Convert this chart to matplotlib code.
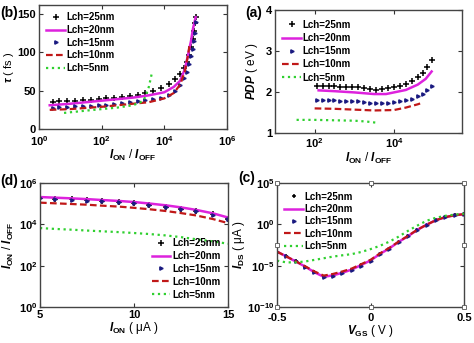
import matplotlib
matplotlib.use('Agg')
import matplotlib.pyplot as plt
from matplotlib.ticker import FixedLocator, FixedFormatter, NullLocator

plt.rcParams['font.family'] = ['Liberation Sans', 'DejaVu Sans']
plt.rcParams['font.weight'] = 'bold'
plt.rcParams['mathtext.fontset'] = 'custom'
plt.rcParams['mathtext.rm'] = 'Liberation Sans:bold'
plt.rcParams['mathtext.it'] = 'Liberation Sans:italic:bold'
plt.rcParams['mathtext.bf'] = 'Liberation Sans:bold'

labels = ['Lch=25nm', 'Lch=20nm', 'Lch=15nm', 'Lch=10nm', 'Lch=5nm']

# (b) delay vs ION/IOFF
b_x25 = [2.8, 4.5, 8, 14, 25, 45, 80, 140, 250, 450, 800, 1400, 2500, 4500, 8000, 14000, 22000,
         32000, 42000, 52000, 63000, 72000, 81000, 89000, 95000, 100000]
b_t25 = [35, 36, 36.5, 37, 37.5, 38, 39, 40, 41, 42, 43.5, 45, 47, 50, 54, 59, 65,
         72, 80, 88, 97, 107, 118, 128, 138, 146]
b_x20 = [2.2, 10, 100, 1000, 3200, 10000, 20000, 32000, 45000, 56000, 71000, 83000, 100000]
b_t20 = [31, 33, 37, 41, 44, 48, 55, 63, 78, 95, 115, 132, 146]
b_x15 = [2.8, 4.5, 8, 14, 25, 45, 80, 140, 250, 450, 800, 1400, 2500, 4500, 8000, 14000, 22000,
         32000, 42000, 52000, 63000, 72000, 81000, 89000, 95000, 100000]
b_t15 = [28, 28.5, 29, 29.5, 30, 30.5, 31, 32, 33, 34, 35, 36, 37.5, 39, 41, 45, 50,
         58, 66, 75, 85, 95, 105, 115, 125, 140]
b_x10 = [2.2, 10, 100, 1000, 3200, 10000, 20000, 32000, 45000, 56000, 63000]
b_t10 = [25, 26, 29, 33, 35, 40, 47, 58, 75, 95, 108]
b_x5 = [6.3, 32, 100, 320, 1000, 2000, 2500, 3200, 4000]
b_t5 = [21, 24, 26, 28, 31, 36, 42, 55, 73]

# (a) power-delay product vs ION/IOFF
a_x25 = [112, 158, 224, 316, 447, 631, 891, 1259, 1778, 2512, 3548, 5012, 7079, 10000,
         14125, 19953, 28184, 39811, 52481, 69183, 89125]
a_p25 = [2.15, 2.15, 2.14, 2.14, 2.13, 2.12, 2.12, 2.11, 2.10, 2.08, 2.05, 2.08, 2.10, 2.12,
         2.15, 2.20, 2.27, 2.36, 2.47, 2.60, 2.77]
a_x20 = [126, 316, 1000, 3162, 6310, 10000, 19953, 39811, 63096, 89125]
a_p20 = [2.04, 2.02, 1.99, 1.95, 1.95, 1.99, 2.05, 2.18, 2.32, 2.50]
a_x15 = [112, 158, 224, 316, 447, 631, 891, 1259, 1778, 2512, 3548, 5012, 7079, 10000,
         14125, 19953, 28184, 39811, 52481, 69183, 89125]
a_p15 = [1.81, 1.81, 1.80, 1.80, 1.79, 1.78, 1.78, 1.77, 1.75, 1.74, 1.73, 1.73, 1.74, 1.75,
         1.77, 1.80, 1.84, 1.90, 1.96, 2.05, 2.15]
a_x10 = [100, 316, 1000, 3162, 10000, 19953, 39811, 45709]
a_p10 = [1.60, 1.59, 1.57, 1.55, 1.56, 1.62, 1.70, 1.72]
a_x5 = [35, 100, 316, 1000, 2000, 3715]
a_p5 = [1.32, 1.32, 1.31, 1.30, 1.28, 1.25]

# (d) ION/IOFF vs ION
d_ion = [5, 5.8, 6.7, 7.5, 8.3, 9.2, 10, 10.8, 11.7, 12.5, 13.3, 14.2, 15]
d_r25 = [1.86e5, 1.74e5, 1.60e5, 1.45e5, 1.32e5, 1.20e5, 1.07e5, 9.1e4, 7.2e4, 5.5e4, 4.4e4, 3.0e4, 1.86e4]
d_r20 = [2.09e5, 1.95e5, 1.80e5, 1.66e5, 1.50e5, 1.35e5, 1.20e5, 1.02e5, 8.3e4, 6.6e4, 5.0e4, 3.4e4, 2.14e4]
d_r15 = [1.80e5, 1.68e5, 1.55e5, 1.40e5, 1.28e5, 1.15e5, 1.02e5, 8.8e4, 7.0e4, 5.4e4, 4.2e4, 2.9e4, 1.78e4]
d_r10 = [1.12e5, 1.04e5, 9.6e4, 8.9e4, 8.0e4, 7.2e4, 6.3e4, 5.4e4, 4.4e4, 3.5e4, 2.7e4, 1.8e4, 1.15e4]
d_r5 = [6.6e3, 6.0e3, 5.5e3, 5.0e3, 4.6e3, 4.2e3, 3.8e3, 3.4e3, 2.9e3, 2.4e3, 1.9e3, 1.5e3, 1.15e3]

# (c) IDS-VGS transfer curves
c_vgs = [-0.5, -0.45, -0.4, -0.35, -0.3, -0.25, -0.2, -0.15, -0.1, -0.05, 0,
         0.05, 0.1, 0.15, 0.2, 0.25, 0.3, 0.35, 0.4, 0.45, 0.5]
c_id25 = [5e-4, 1.3e-4, 3.2e-5, 7.9e-6, 1.6e-6, 4.0e-7, 6.3e-7, 1.3e-6, 3.2e-6, 1.1e-5, 4.0e-5,
          2.5e-4, 1.1e-3, 7.1e-3, 3.5e-2, 0.2, 0.9, 3.2, 7.4, 12.6, 17]
c_id20 = [5e-4, 1.3e-4, 3.2e-5, 7.9e-6, 1.6e-6, 4.5e-7, 6.8e-7, 1.4e-6, 3.4e-6, 1.2e-5, 4.2e-5,
          2.6e-4, 1.2e-3, 7.4e-3, 3.6e-2, 0.21, 0.9, 3.2, 7.4, 12.6, 17]
c_id15 = [5e-4, 1.3e-4, 3.2e-5, 7.9e-6, 1.6e-6, 3.8e-7, 6.0e-7, 1.2e-6, 3.0e-6, 1.0e-5, 3.8e-5,
          2.4e-4, 1.0e-3, 7.0e-3, 3.4e-2, 0.2, 0.9, 3.2, 7.4, 12.6, 17]
c_id10 = [5e-4, 1.3e-4, 3.4e-5, 8.5e-6, 2.0e-6, 6.3e-7, 1.0e-6, 2.0e-6, 4.5e-6, 1.5e-5, 5.0e-5,
          3.0e-4, 1.4e-3, 8.0e-3, 4.0e-2, 0.22, 0.9, 3.2, 7.4, 12.6, 17]
c_id5 = [4.0e-5, 2.5e-5, 2.5e-5, 3.2e-5, 5.0e-5, 7.9e-5, 1.26e-4, 1.8e-4, 2.5e-4, 4.5e-4, 1.0e-3,
         2.5e-3, 7.9e-3, 3.2e-2, 0.16, 0.7, 2.7, 6.3, 10.7, 15, 19]

fig = plt.figure(figsize=(4.74, 3.43), dpi=100)


def style_axes(ax):
    ax.tick_params(direction='in', top=True, right=True, length=3, width=0.8,
                   labelsize=8, pad=2, colors='#333333', labelcolor='black')
    for s in ax.spines.values():
        s.set_color('#444444')
        s.set_linewidth(1.0)
    ax.xaxis.set_minor_locator(NullLocator())
    ax.yaxis.set_minor_locator(NullLocator())


def set_log_ticks(axis, exps):
    axis.set_major_locator(FixedLocator([10.0 ** e for e in exps]))
    axis.set_major_formatter(FixedFormatter([r'$\mathbf{10^{%d}}$' % e for e in exps]))


def draw_series(ax, xs, ys, ms=4.5):
    ax.plot(xs[0], ys[0], '+', color='black', ms=ms, mew=1.1, ls='none', label=labels[0])
    ax.plot(xs[1], ys[1], '-', color='#dd22dd', lw=1.8, label=labels[1])
    ax.plot(xs[2], ys[2], '>', color='#1a1a80', ms=2.4, ls='none', label=labels[2])
    ax.plot(xs[3], ys[3], '--', color='#c01818', lw=1.6, dashes=(3, 1.5), label=labels[3])
    ax.plot(xs[4], ys[4], ':', color='#30d030', lw=1.6, label=labels[4])


def add_legend(ax, loc, anchor, spacing=0.28):
    ax.legend(loc=loc, bbox_to_anchor=anchor, frameon=False, fontsize=7,
              handlelength=1.9, handletextpad=0.2, labelspacing=spacing, borderpad=0.25)


# (b)
ax_b = fig.add_axes([39 / 474, 1 - 129 / 343, 188 / 474, 124 / 343])
draw_series(ax_b, [b_x25, b_x20, b_x15, b_x10, b_x5], [b_t25, b_t20, b_t15, b_t10, b_t5])
ax_b.set_xscale('log')
ax_b.set_xlim(1, 1e6)
ax_b.set_ylim(0, 162)
set_log_ticks(ax_b.xaxis, [0, 2, 4, 6])
ax_b.set_yticks([0, 50, 100, 150])
style_axes(ax_b)
ax_b.tick_params(axis='x', pad=4)
ax_b.set_xlabel(r'$\mathit{I}_{\mathrm{ON}}$ / $\mathit{I}_{\mathrm{OFF}}$', fontsize=8.5, labelpad=0)
ax_b.set_ylabel(r'$\tau$ ( fs )', fontsize=8, labelpad=1)
add_legend(ax_b, 'upper left', (0.0, 1.0))
fig.text(0.0, 1 - 13 / 343, '(b)', fontsize=10, fontweight='bold', va='center')

# (a)
ax_a = fig.add_axes([275 / 474, 1 - 133 / 343, 187 / 474, 123 / 343])
draw_series(ax_a, [a_x25, a_x20, a_x15, a_x10, a_x5], [a_p25, a_p20, a_p15, a_p10, a_p5])
ax_a.set_xscale('log')
ax_a.set_xlim(10, 5.2e5)
ax_a.set_ylim(1, 4)
set_log_ticks(ax_a.xaxis, [2, 4])
ax_a.set_yticks([1, 2, 3, 4])
style_axes(ax_a)
ax_a.set_xlabel(r'$\mathit{I}_{\mathrm{ON}}$ / $\mathit{I}_{\mathrm{OFF}}$', fontsize=8.5, labelpad=1)
ax_a.set_ylabel(r'$\mathit{PDP}$ ( eV )', fontsize=8.5, labelpad=4)
add_legend(ax_a, 'upper left', (0.0, 0.98), spacing=0.33)
fig.text(245 / 474, 1 - 13 / 343, '(a)', fontsize=10, fontweight='bold', va='center')

# (d)
ax_d = fig.add_axes([40 / 474, 1 - 307 / 343, 188 / 474, 124 / 343])
draw_series(ax_d, [d_ion] * 5, [d_r25, d_r20, d_r15, d_r10, d_r5])
ax_d.set_yscale('log')
ax_d.set_xlim(5, 15)
ax_d.set_ylim(1, 1e6)
ax_d.set_xticks([5, 10, 15])
set_log_ticks(ax_d.yaxis, [0, 2, 4, 6])
style_axes(ax_d)
ax_d.set_xlabel(r'$\mathit{I}_{\mathrm{ON}}$ ( μA )', fontsize=8.5, labelpad=0)
ax_d.set_ylabel(r'$\mathit{I}_{\mathrm{ON}}$ / $\mathit{I}_{\mathrm{OFF}}$', fontsize=8.5, labelpad=2)
add_legend(ax_d, 'lower right', (1.0, 0.0), spacing=0.3)
fig.text(0.0, 1 - 181 / 343, '(d)', fontsize=10, fontweight='bold', va='center')

# (c)
ax_c = fig.add_axes([277 / 474, 1 - 307 / 343, 187 / 474, 124 / 343])
draw_series(ax_c, [c_vgs] * 5, [c_id25, c_id20, c_id15, c_id10, c_id5], ms=3)
ax_c.set_yscale('log')
ax_c.set_xlim(-0.5, 0.5)
ax_c.set_ylim(1e-10, 1e5)
ax_c.set_xticks([-0.5, 0, 0.5])
ax_c.set_xticklabels(['-0.5', '0', '0.5'])
set_log_ticks(ax_c.yaxis, [-10, -5, 0, 5])
style_axes(ax_c)
ax_c.tick_params(axis='x', pad=4)
ax_c.set_xlabel(r'$\mathit{V}_{\mathrm{GS}}$ ( V )', fontsize=8.5, labelpad=0)
ax_c.set_ylabel(r'$\mathit{I}_{\mathrm{DS}}$ ( μA )', fontsize=8.5, labelpad=0)
add_legend(ax_c, 'upper left', (0.0, 0.99), spacing=0.25)
# small handles around the frame
hx = [0, 0.5, 1, 0, 1, 0, 0.5, 1]
hy = [0, 0, 0, 0.5, 0.5, 1, 1, 1]
ax_c.plot(hx, hy, 's', ms=2.5, mfc='white', mec='#555555', mew=0.6,
          transform=ax_c.transAxes, clip_on=False, zorder=5)
fig.text(238 / 474, 1 - 178 / 343, '(c)', fontsize=10, fontweight='bold', va='center')

fig.savefig('out.png', dpi=100)
